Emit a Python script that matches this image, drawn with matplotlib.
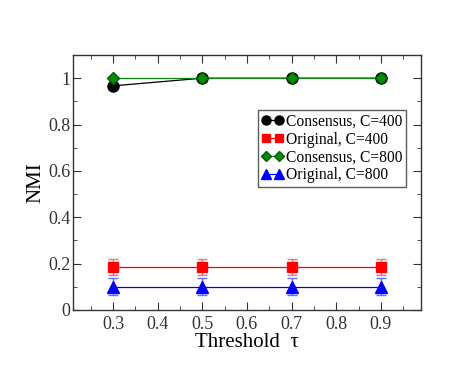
import matplotlib
matplotlib.use('Agg')
import matplotlib.pyplot as plt
from matplotlib.lines import Line2D
from matplotlib.ticker import MultipleLocator

thresholds = [0.3, 0.5, 0.7, 0.9]
consensus_400 = [0.967, 1.0, 1.0, 1.0]
original_400 = [0.187, 0.187, 0.187, 0.187]
original_400_err = [0.035, 0.035, 0.035, 0.035]
consensus_800 = [1.0, 1.0, 1.0, 1.0]
original_800 = [0.100, 0.100, 0.100, 0.100]
original_800_err = [0.036, 0.036, 0.036, 0.036]

plt.rcParams['font.family'] = ['Liberation Serif', 'DejaVu Serif']

fig = plt.figure(figsize=(4.74, 3.66), dpi=100)
ax = fig.add_axes([73 / 474, 1 - 310 / 366, 348 / 474, 255 / 366])

ax.plot(thresholds, consensus_400, '-o', color='black', lw=0.9, ms=8, zorder=3)
ax.errorbar(thresholds, original_400, yerr=original_400_err, fmt='-s',
            color='#ff0000', ecolor='#ff7070', elinewidth=1, capsize=3.5,
            lw=0.9, ms=7, zorder=3)
ax.plot(thresholds, consensus_800, '-D', color='#0a8a0a', mec='#006000',
        lw=0.9, ms=6.5, zorder=4)
ax.errorbar(thresholds, original_800, yerr=original_800_err, fmt='-^',
            color='#0000ff', ecolor='#6a6aff', elinewidth=1, capsize=3.5,
            lw=0.9, ms=8, zorder=3)

ax.set_xlim(0.21, 0.99)
ax.set_ylim(0, 1.1)
ax.xaxis.set_minor_locator(MultipleLocator(0.05))
ax.yaxis.set_minor_locator(MultipleLocator(0.1))
ax.set_xticks([0.3, 0.4, 0.5, 0.6, 0.7, 0.8, 0.9])
ax.set_xticklabels(['0.3', '0.4', '0.5', '0.6', '0.7', '0.8', '0.9'])
ax.set_yticks([0, 0.2, 0.4, 0.6, 0.8, 1.0])
ax.set_yticklabels(['0', '0.2', '0.4', '0.6', '0.8', '1'])
ax.tick_params(which='both', direction='in', top=True, right=True,
               labelsize=13, colors='#333333')
ax.tick_params(axis='x', pad=4)
ax.tick_params(axis='y', pad=2)
ax.tick_params(which='major', length=6)
ax.tick_params(which='minor', length=3)
for s in ax.spines.values():
    s.set_color('#333333')
    s.set_linewidth(1.0)

ax.set_xlabel('Threshold  τ', fontsize=15, labelpad=0)
ax.set_ylabel('NMI', fontsize=15, labelpad=2)

handles = [
    Line2D([], [], color='black', marker='o', lw=0.9, ms=6.5),
    Line2D([], [], color='#ff0000', marker='s', lw=0.9, ms=5.5),
    Line2D([], [], color='#0a8a0a', marker='D', mec='#006000', lw=0.9, ms=5),
    Line2D([], [], color='#0000ff', marker='^', lw=0.9, ms=6.5),
]
labels = ['Consensus, C=400', 'Original, C=400', 'Consensus, C=800',
          'Original, C=800']
leg = ax.legend(handles, labels, loc='upper right',
                bbox_to_anchor=(0.957, 0.785), numpoints=2,
                fontsize=11.2, frameon=True, fancybox=False, borderpad=0.25,
                labelspacing=0.12, handlelength=1.4, handletextpad=0.15,
                borderaxespad=0)
leg.get_frame().set_edgecolor('#333333')
leg.get_frame().set_linewidth(1.0)

fig.savefig('out.png', dpi=100)
